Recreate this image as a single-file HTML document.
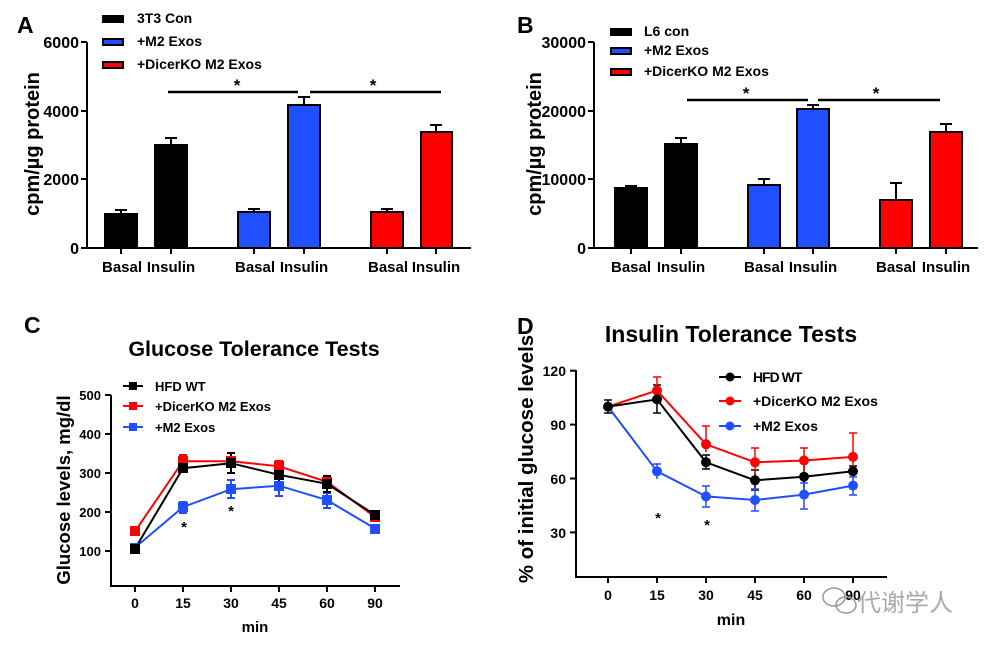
<!DOCTYPE html>
<html><head><meta charset="utf-8"><style>
html,body{margin:0;padding:0;background:#fff}
svg{display:block;font-family:"Liberation Sans",Arial,sans-serif;font-weight:bold}
</style></head><body>
<svg width="988" height="646" viewBox="0 0 988 646" xmlns="http://www.w3.org/2000/svg">
<rect width="988" height="646" fill="#fff"/>
<!-- Panel A -->
<text x="17" y="33" font-size="23">A</text>
<g stroke="#000" stroke-width="2" fill="none">
<line x1="87" y1="42" x2="87" y2="249"/><line x1="86" y1="248" x2="471" y2="248"/>
<line x1="81" y1="42" x2="87" y2="42"/><line x1="81" y1="111" x2="87" y2="111"/><line x1="81" y1="179" x2="87" y2="179"/><line x1="81" y1="248" x2="87" y2="248"/>
<line x1="121" y1="248" x2="121" y2="254"/><line x1="171" y1="248" x2="171" y2="254"/><line x1="254" y1="248" x2="254" y2="254"/><line x1="304" y1="248" x2="304" y2="254"/><line x1="387" y1="248" x2="387" y2="254"/><line x1="436" y1="248" x2="436" y2="254"/>
<path d="M121 214V210M115 210H127M171 145V138M165 138H177M254 212V209M248 209H260M304 105V97M298 97H310M387 212V209M381 209H393M436 132V125M430 125H442"/>
</g>
<g stroke="#000" stroke-width="2">
<rect x="105" y="214" width="32" height="34" fill="#000"/><rect x="155" y="145" width="32" height="103" fill="#000"/>
<rect x="238" y="212" width="32" height="36" fill="#1f4fff"/><rect x="288" y="105" width="32" height="143" fill="#1f4fff"/>
<rect x="371" y="212" width="32" height="36" fill="#ff0000"/><rect x="421" y="132" width="31" height="116" fill="#ff0000"/>
<rect x="103" y="16" width="20" height="6" fill="#000"/><rect x="103" y="39" width="20" height="6" fill="#1f4fff"/><rect x="103" y="62" width="20" height="6" fill="#ff0000"/>
</g>
<g font-size="14"><text x="137" y="23">3T3 Con</text><text x="137" y="46">+M2 Exos</text><text x="137" y="69">+DicerKO M2 Exos</text></g>
<g font-size="16" text-anchor="end"><text x="79" y="48">6000</text><text x="79" y="117">4000</text><text x="79" y="185">2000</text><text x="79" y="254">0</text></g>
<g font-size="15" text-anchor="middle"><text x="122" y="272">Basal</text><text x="171" y="272">Insulin</text><text x="255" y="272">Basal</text><text x="304" y="272">Insulin</text><text x="388" y="272">Basal</text><text x="436" y="272">Insulin</text></g>
<text transform="translate(39,144) rotate(-90)" font-size="20" text-anchor="middle">cpm/µg protein</text>
<g stroke="#000" stroke-width="2.5"><line x1="168" y1="92" x2="298" y2="92"/><line x1="310" y1="92" x2="441" y2="92"/></g>
<g font-size="17" text-anchor="middle"><text x="237" y="91">*</text><text x="373" y="91">*</text></g>
<!-- Panel B -->
<text x="517" y="33" font-size="23">B</text>
<g stroke="#000" stroke-width="2" fill="none">
<line x1="594" y1="42" x2="594" y2="249"/><line x1="593" y1="248" x2="978" y2="248"/>
<line x1="588" y1="42" x2="594" y2="42"/><line x1="588" y1="111" x2="594" y2="111"/><line x1="588" y1="179" x2="594" y2="179"/><line x1="588" y1="248" x2="594" y2="248"/>
<line x1="631" y1="248" x2="631" y2="254"/><line x1="681" y1="248" x2="681" y2="254"/><line x1="764" y1="248" x2="764" y2="254"/><line x1="813" y1="248" x2="813" y2="254"/><line x1="896" y1="248" x2="896" y2="254"/><line x1="946" y1="248" x2="946" y2="254"/>
<path d="M631 188V186M625 186H637M681 144V138M675 138H687M764 185V179M758 179H770M813 109V105M807 105H819M896 200V183M890 183H902M946 132V124M940 124H952"/>
</g>
<g stroke="#000" stroke-width="2">
<rect x="615" y="188" width="32" height="60" fill="#000"/><rect x="665" y="144" width="32" height="104" fill="#000"/>
<rect x="748" y="185" width="32" height="63" fill="#1f4fff"/><rect x="797" y="109" width="32" height="139" fill="#1f4fff"/>
<rect x="880" y="200" width="32" height="48" fill="#ff0000"/><rect x="930" y="132" width="32" height="116" fill="#ff0000"/>
<rect x="611" y="29" width="20" height="6" fill="#000"/><rect x="611" y="48" width="20" height="6" fill="#1f4fff"/><rect x="611" y="69" width="20" height="6" fill="#ff0000"/>
</g>
<g font-size="14"><text x="644" y="36">L6 con</text><text x="644" y="55">+M2 Exos</text><text x="644" y="76">+DicerKO M2 Exos</text></g>
<g font-size="16" text-anchor="end"><text x="586" y="48">30000</text><text x="586" y="117">20000</text><text x="586" y="185">10000</text><text x="586" y="254">0</text></g>
<g font-size="15" text-anchor="middle"><text x="631" y="272">Basal</text><text x="681" y="272">Insulin</text><text x="764" y="272">Basal</text><text x="813" y="272">Insulin</text><text x="896" y="272">Basal</text><text x="946" y="272">Insulin</text></g>
<text transform="translate(541,144) rotate(-90)" font-size="20" text-anchor="middle">cpm/µg protein</text>
<g stroke="#000" stroke-width="2.5"><line x1="687" y1="100" x2="808" y2="100"/><line x1="818" y1="100" x2="940" y2="100"/></g>
<g font-size="17" text-anchor="middle"><text x="746" y="99">*</text><text x="876" y="99">*</text></g>
<!-- Panel C -->
<text x="24" y="333" font-size="23">C</text>
<text x="254" y="356" font-size="21.5" text-anchor="middle">Glucose Tolerance Tests</text>
<g stroke="#000" stroke-width="2" fill="none">
<line x1="111" y1="395" x2="111" y2="587"/><line x1="110" y1="586" x2="400" y2="586"/>
<line x1="105" y1="395" x2="111" y2="395"/><line x1="105" y1="434" x2="111" y2="434"/><line x1="105" y1="473" x2="111" y2="473"/><line x1="105" y1="512" x2="111" y2="512"/><line x1="105" y1="551" x2="111" y2="551"/>
<line x1="135" y1="586" x2="135" y2="592"/><line x1="183" y1="586" x2="183" y2="592"/><line x1="231" y1="586" x2="231" y2="592"/><line x1="279" y1="586" x2="279" y2="592"/><line x1="327" y1="586" x2="327" y2="592"/><line x1="375" y1="586" x2="375" y2="592"/>
</g>
<g font-size="13" text-anchor="end"><text x="101" y="400">500</text><text x="101" y="439">400</text><text x="101" y="478">300</text><text x="101" y="517">200</text><text x="101" y="556">100</text></g>
<g font-size="14" text-anchor="middle"><text x="135" y="608">0</text><text x="183" y="608">15</text><text x="231" y="608">30</text><text x="279" y="608">45</text><text x="327" y="608">60</text><text x="375" y="608">90</text></g>
<text x="255" y="632" font-size="15" text-anchor="middle">min</text>
<text transform="translate(70,490) rotate(-90)" font-size="18.5" text-anchor="middle">Glucose levels, mg/dl</text>
<g fill="none" stroke-width="2">
<polyline stroke="#1f4fff" points="135,547.6 183,507.1 231,489.2 279,485.7 327,500.1 375,528.5"/>
<path stroke="#1f4fff" d="M183 502V513M179 502H187M179 513H187M231 480V498M227 480H235M227 498H235M279 476V496M275 476H283M275 496H283M327 493V508M323 493H331M323 508H331"/>
<polyline stroke="#ff0000" points="135,531.3 183,461.2 231,461.2 279,466.3 327,481.8 375,516.9"/>
<path stroke="#ff0000" d="M183 455V467M179 455H187M179 467H187M231 457V466M279 461V471M275 461H283M327 477V486"/>
<polyline stroke="#000" points="135,548.8 183,468.2 231,463.2 279,474.8 327,483.8 375,514.9"/>
<path stroke="#000" d="M231 453V473M227 453H235M227 473H235M279 466V483M275 466H283M275 483H283M327 476V492M323 476H331M323 492H331"/>
</g>
<g>
<rect x="130" y="543" width="9" height="9" fill="#1f4fff"/><rect x="178" y="502" width="10" height="10" fill="#1f4fff"/><rect x="226" y="484" width="10" height="10" fill="#1f4fff"/><rect x="274" y="481" width="10" height="10" fill="#1f4fff"/><rect x="322" y="495" width="10" height="10" fill="#1f4fff"/><rect x="370" y="524" width="10" height="10" fill="#1f4fff"/>
<rect x="130" y="526" width="10" height="10" fill="#ff0000"/><rect x="178" y="456" width="10" height="10" fill="#ff0000"/><rect x="226" y="456" width="10" height="10" fill="#ff0000"/><rect x="274" y="461" width="10" height="10" fill="#ff0000"/><rect x="322" y="477" width="10" height="10" fill="#ff0000"/><rect x="370" y="512" width="10" height="10" fill="#ff0000"/>
<rect x="130" y="544" width="10" height="10" fill="#000"/><rect x="178" y="463" width="10" height="10" fill="#000"/><rect x="226" y="458" width="10" height="10" fill="#000"/><rect x="274" y="470" width="10" height="10" fill="#000"/><rect x="322" y="479" width="10" height="10" fill="#000"/><rect x="370" y="510" width="10" height="10" fill="#000"/>
</g>
<g stroke-width="2"><line x1="123" y1="386" x2="143" y2="386" stroke="#000"/><line x1="123" y1="406" x2="143" y2="406" stroke="#ff0000"/><line x1="123" y1="427" x2="143" y2="427" stroke="#1f4fff"/></g>
<rect x="129" y="382" width="8" height="8" fill="#000"/><rect x="129" y="402" width="8" height="8" fill="#ff0000"/><rect x="129" y="423" width="8" height="8" fill="#1f4fff"/>
<g font-size="13"><text x="155" y="391">HFD WT</text><text x="155" y="411">+DicerKO M2 Exos</text><text x="155" y="432">+M2 Exos</text></g>
<g font-size="15" text-anchor="middle"><text x="184" y="532">*</text><text x="231" y="516">*</text></g>
<!-- Panel D -->
<text x="517" y="334" font-size="23">D</text>
<text x="731" y="342" font-size="23" text-anchor="middle">Insulin Tolerance Tests</text>
<g stroke="#000" stroke-width="2" fill="none">
<line x1="576" y1="370" x2="576" y2="578"/><line x1="575" y1="577" x2="887" y2="577"/>
<line x1="570" y1="370.7" x2="576" y2="370.7"/><line x1="570" y1="424.6" x2="576" y2="424.6"/><line x1="570" y1="478.5" x2="576" y2="478.5"/><line x1="570" y1="532.4" x2="576" y2="532.4"/>
<line x1="608" y1="577" x2="608" y2="583"/><line x1="657" y1="577" x2="657" y2="583"/><line x1="706" y1="577" x2="706" y2="583"/><line x1="755" y1="577" x2="755" y2="583"/><line x1="804" y1="577" x2="804" y2="583"/><line x1="853" y1="577" x2="853" y2="583"/>
</g>
<g font-size="14" text-anchor="end"><text x="566" y="376">120</text><text x="566" y="430">90</text><text x="566" y="484">60</text><text x="566" y="538">30</text></g>
<g font-size="14" text-anchor="middle"><text x="608" y="600">0</text><text x="657" y="600">15</text><text x="706" y="600">30</text><text x="755" y="600">45</text><text x="804" y="600">60</text><text x="853" y="600">90</text></g>
<text x="731" y="625" font-size="16" text-anchor="middle">min</text>
<text transform="translate(533,459) rotate(-90)" font-size="20.5" text-anchor="middle">% of initial glucose levels</text>
<g fill="none" stroke-width="1.5">
<path stroke="#000" d="M608 400V413M604 400H612M604 413H612M657 385V413M653 385H661M653 413H661M706 455V469M702 455H710M702 469H710M755 470V490M751 470H759M751 490H759M804 462V491M800 462H808M853 466V476M849 466H857"/>
<path stroke="#ff0000" d="M657 377V395M653 377H661M706 426V452M702 426H710M755 448V474M751 448H759M804 448V472M800 448H808M853 433V478M849 433H857"/>
<path stroke="#1f4fff" d="M657 464V479M653 464H661M706 486V507M702 486H710M702 507H710M755 489V511M751 489H759M751 511H759M804 483V509M800 483H808M800 509H808M853 477V495M849 477H857M849 495H857"/>
</g>
<g fill="none" stroke-width="2">
<polyline stroke="#1f4fff" points="608,406.6 657,471.3 706,496.4 755,500 804,494.6 853,485.6"/>
<polyline stroke="#ff0000" points="608,406.6 657,390.5 706,444.3 755,462.3 804,460.5 853,456.9"/>
<polyline stroke="#000" points="608,406.6 657,399.4 706,462.3 755,480.3 804,476.7 853,471.3"/>
</g>
<g>
<circle cx="657" cy="471.3" r="5" fill="#1f4fff"/><circle cx="706" cy="496.4" r="5" fill="#1f4fff"/><circle cx="755" cy="500" r="5" fill="#1f4fff"/><circle cx="804" cy="494.6" r="5" fill="#1f4fff"/><circle cx="853" cy="485.6" r="5" fill="#1f4fff"/>
<circle cx="657" cy="390.5" r="5" fill="#ff0000"/><circle cx="706" cy="444.3" r="5" fill="#ff0000"/><circle cx="755" cy="462.3" r="5" fill="#ff0000"/><circle cx="804" cy="460.5" r="5" fill="#ff0000"/><circle cx="853" cy="456.9" r="5" fill="#ff0000"/>
<circle cx="608" cy="406.6" r="5" fill="#000"/><circle cx="657" cy="399.4" r="5" fill="#000"/><circle cx="706" cy="462.3" r="5" fill="#000"/><circle cx="755" cy="480.3" r="5" fill="#000"/><circle cx="804" cy="476.7" r="5" fill="#000"/><circle cx="853" cy="471.3" r="5" fill="#000"/>
</g>
<g stroke-width="2"><line x1="719" y1="377" x2="741" y2="377" stroke="#000"/><line x1="719" y1="401" x2="741" y2="401" stroke="#ff0000"/><line x1="719" y1="426" x2="741" y2="426" stroke="#1f4fff"/></g>
<circle cx="730" cy="377" r="4.5" fill="#000"/><circle cx="730" cy="401" r="4.5" fill="#ff0000"/><circle cx="730" cy="426" r="4.5" fill="#1f4fff"/>
<g font-size="14"><text x="753" y="382" letter-spacing="-1">HFD WT</text><text x="753" y="406">+DicerKO M2 Exos</text><text x="753" y="431">+M2 Exos</text></g>
<g font-size="15" text-anchor="middle"><text x="658" y="523">*</text><text x="707" y="530">*</text></g>
<!-- watermark -->
<g fill="none" stroke="#999" stroke-width="1.5"><ellipse cx="834" cy="597" rx="11" ry="9"/><ellipse cx="846" cy="605" rx="10" ry="8"/></g>
<text x="857" y="611" font-size="24" font-weight="normal" fill="#aaa" font-family="'Noto Sans CJK SC',sans-serif">代谢学人</text>
</svg>
</body></html>
